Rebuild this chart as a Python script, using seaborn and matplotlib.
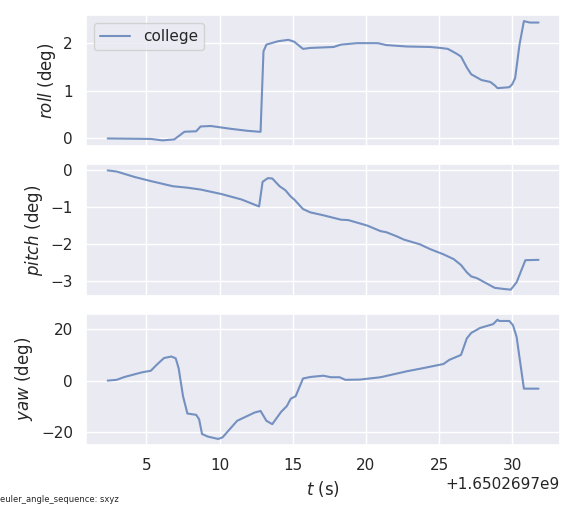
import numpy as np
import seaborn as sns
import matplotlib
matplotlib.use("Agg")
import matplotlib.pyplot as plt

# time offset of the trajectory (unix seconds)
t0 = 1.6502697e9

roll_t = [2.35, 5.3, 6.1, 6.9, 7.6, 8.4, 8.7, 9.4, 10.1, 10.8, 11.9, 12.7, 12.8, 13.0,
          13.2, 14.0, 14.7, 15.1, 15.7, 16.2, 17.8, 18.3, 19.4, 20.8, 21.4, 22.8, 24.4,
          25.1, 25.6, 26.2, 26.5, 26.9, 27.2, 27.9, 28.5, 28.8, 29.0, 29.8, 30.0, 30.2,
          30.5, 30.8, 31.2, 31.8]
roll = [0.0, -0.01, -0.04, -0.02, 0.14, 0.15, 0.25, 0.26, 0.23, 0.2, 0.16, 0.14, 0.14, 1.82,
        1.96, 2.03, 2.06, 2.02, 1.87, 1.89, 1.91, 1.96, 1.99, 1.99, 1.95, 1.92, 1.91,
        1.89, 1.87, 1.77, 1.71, 1.48, 1.34, 1.22, 1.18, 1.11, 1.05, 1.07, 1.13, 1.26,
        1.96, 2.45, 2.42, 2.42]

pitch_t = [2.35, 2.96, 4.2, 5.3, 6.8, 7.8, 8.7, 10.1, 11.5, 12.7, 12.94, 13.3, 13.6, 14.1,
           14.5, 14.86, 15.1, 15.7, 16.2, 17.1, 18.3, 18.8, 20.1, 21.0, 21.4, 22.1, 22.6,
           23.7, 24.4, 25.3, 26.0, 26.5, 26.9, 27.2, 27.6, 28.8, 29.4, 29.9, 30.3, 30.9,
           31.8]
pitch = [0.0, -0.03, -0.18, -0.29, -0.43, -0.47, -0.52, -0.64, -0.79, -0.98, -0.31, -0.21,
         -0.22, -0.43, -0.54, -0.71, -0.79, -1.05, -1.14, -1.22, -1.34, -1.35, -1.5, -1.65,
         -1.68, -1.79, -1.88, -2.01, -2.14, -2.28, -2.41, -2.57, -2.77, -2.88, -2.93, -3.19,
         -3.22, -3.24, -3.04, -2.44, -2.43]

yaw_t = [2.35, 2.96, 3.5, 4.7, 5.3, 5.7, 6.2, 6.7, 7.0, 7.2, 7.5, 7.8, 8.4, 8.6, 8.8, 9.2,
         9.9, 10.2, 11.2, 12.4, 12.8, 13.2, 13.6, 14.2, 14.6, 14.86, 15.2, 15.7, 16.2,
         17.1, 17.6, 18.2, 18.6, 19.6, 21.0, 22.8, 23.9, 25.3, 25.7, 26.5, 26.9, 27.2,
         27.8, 28.7, 29.0, 29.1, 29.8, 30.05, 30.3, 30.8, 31.8]
yaw = [0.0, 0.3, 1.4, 3.2, 3.8, 6.1, 8.7, 9.3, 8.6, 4.8, -6.0, -12.7, -13.2, -14.9, -20.6,
       -21.6, -22.5, -21.9, -15.5, -12.3, -11.7, -15.5, -16.8, -12.1, -9.8, -7.0, -6.0,
       0.8, 1.4, 1.9, 1.3, 1.3, 0.3, 0.4, 1.3, 3.6, 4.8, 6.4, 8.0, 9.9, 16.3, 18.4, 20.3,
       21.8, 23.5, 23.0, 23.0, 21.4, 16.9, -3.1, -3.1]

sns.set_theme()
fig, axes = plt.subplots(3, 1, sharex=True, figsize=(5.78, 5.05), dpi=100)
fig.subplots_adjust(left=0.149, right=0.969, top=0.970, bottom=0.119, hspace=0.138)

color = sns.color_palette()[0]
series = [(roll_t, roll, "$roll$ (deg)"),
          (pitch_t, pitch, "$pitch$ (deg)"),
          (yaw_t, yaw, "$yaw$ (deg)")]
for i, (ts, vals, ylab) in enumerate(series):
    x = t0 + np.array(ts)
    sns.lineplot(x=x, y=vals, ax=axes[i], color=color, alpha=0.75,
                 label="college" if i == 0 else None, legend=(i == 0))
    axes[i].set_ylabel(ylab)

axes[0].legend(loc="upper left")
axes[2].set_xlabel("$t$ (s)")
fig.text(0.0, 0.005, "euler_angle_sequence: sxyz", fontsize=6)

plt.savefig("out.png", dpi=100)
plt.close()
